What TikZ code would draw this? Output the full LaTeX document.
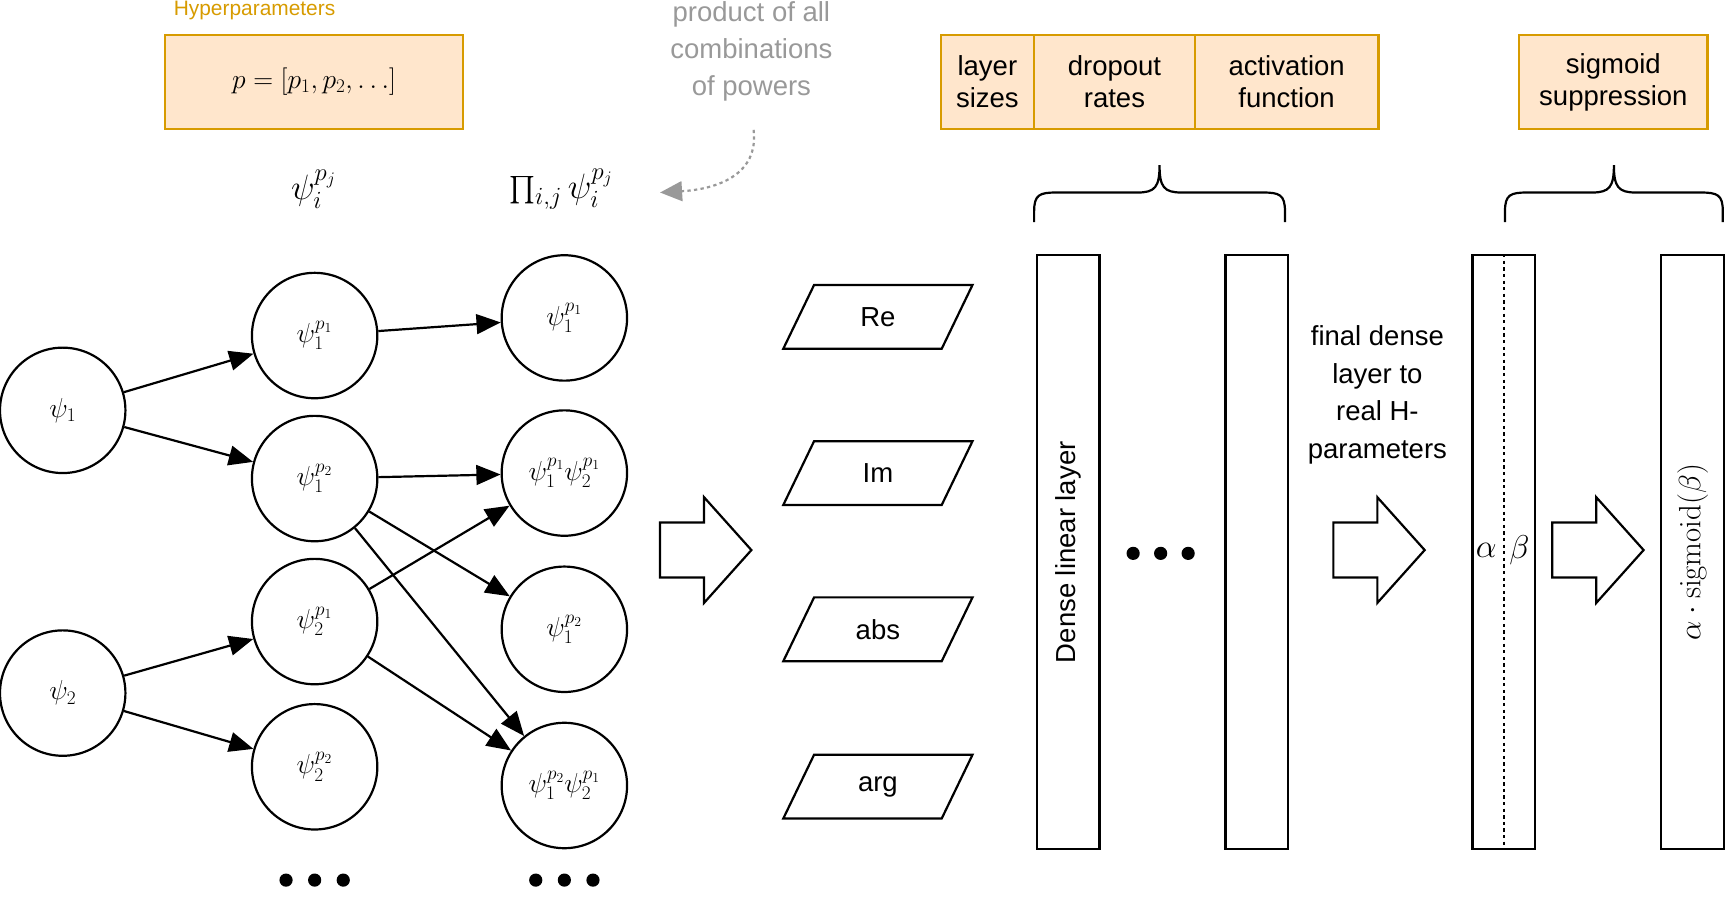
\RequirePackage{fix-cm}
\documentclass[tikz,border=0pt]{standalone}
\usepackage{amsmath}
\usepackage[no-math]{fontspec}
\setmainfont{Liberation Sans}
\usetikzlibrary{arrows.meta}
\definecolor{orfill}{HTML}{FFE6CC}
\definecolor{ordraw}{HTML}{D79B00}
\definecolor{grtxt}{HTML}{999999}
\begin{document}
\begin{tikzpicture}[x=1pt,y=-1pt,line width=2pt,
  fs/.style={font=\fontsize{25}{29}\selectfont},
  cnode/.style={draw,circle,minimum size=114pt,inner sep=0pt,fs},
  obox/.style={draw=ordraw,fill=orfill,line width=2pt,align=center,inner sep=0pt,fs},
  vrect/.style={draw,minimum width=57pt,minimum height=540pt,inner sep=0pt},
  arr/.style={-{Triangle[length=22pt,width=18pt]}},
  blk/.style={draw,fill=white,line width=2pt}]
\useasboundingbox (0,0) rectangle (1568,816);
% top boxes
\node[anchor=north west,text=ordraw,font=\fontsize{19}{22}\selectfont,inner sep=0pt] (hp) at (157,0) {Hyperparameters};
\node[obox,minimum width=271pt,minimum height=85pt] (pb) at (285.5,74.5) {$p=[p_1,p_2,\ldots]$};
\node[obox,minimum width=85pt,minimum height=85pt] (ls) at (897.5,74.5) {layer\\sizes};
\node[obox,minimum width=146pt,minimum height=85pt] (dr) at (1013,74.5) {dropout\\rates};
\node[obox,minimum width=167pt,minimum height=85pt] (af) at (1169.5,74.5) {activation\\function};
\node[obox,minimum width=171pt,minimum height=85pt] (ss) at (1466.5,74.5) {sigmoid\\suppression};
\node[text=grtxt,align=center,font=\fontsize{25}{33.5}\selectfont] (prod) at (683,47) {product of all\\combinations\\of powers};
% column titles
\node[font=\fontsize{32}{36}\selectfont] (t1) at (285,172) {$\psi_i^{p_j}$};
\node[font=\fontsize{32}{36}\selectfont] (t2) at (510,172) {$\prod_{i,j}\psi_i^{p_j}$};
\coordinate (pe) at (600,175);
\draw[grtxt,dashed,line width=2pt,-{Triangle[length=20pt,width=18pt]}] (685,118) .. controls (690,160) and (650,172) .. (pe);
% circles
\node[cnode] (a1) at (57,373) {$\psi_1$};
\node[cnode] (a2) at (57,630) {$\psi_2$};
\node[cnode] (m1) at (286,305) {$\psi_1^{p_1}$};
\node[cnode] (m2) at (286,435) {$\psi_1^{p_2}$};
\node[cnode] (m3) at (286,565) {$\psi_2^{p_1}$};
\node[cnode] (m4) at (286,697) {$\psi_2^{p_2}$};
\node[cnode] (r1) at (513,289) {$\psi_1^{p_1}$};
\node[cnode] (r2) at (513,430) {$\psi_1^{p_1}\psi_2^{p_1}$};
\node[cnode] (r3) at (513,572) {$\psi_1^{p_2}$};
\node[cnode] (r4) at (513,714) {$\psi_1^{p_2}\psi_2^{p_1}$};
\foreach \x in {260,286,312}{\fill (\x,800) circle (6pt);}
\foreach \x in {487,513,539}{\fill (\x,800) circle (6pt);}
\draw[arr] (a1) -- (m1); \draw[arr] (a1) -- (m2);
\draw[arr] (a2) -- (m3); \draw[arr] (a2) -- (m4);
\draw[arr] (m1) -- (r1); \draw[arr] (m2) -- (r2);
\draw[arr] (m2) -- (r3); \draw[arr] (m2) -- (r4);
\draw[arr] (m3) -- (r2); \draw[arr] (m3) -- (r4);
% block arrows
\foreach \x in {600,1212,1411}{
 \draw[blk] (\x,475) -- (\x+40,475) -- (\x+40,452) -- (\x+83,500) -- (\x+40,548) -- (\x+40,525) -- (\x,525) -- cycle;}
% parallelograms
\foreach \y/\t/\n in {288/Re/p1,430/Im/p2,572/abs/p3,715/arg/p4}{
 \draw (712,\y+29) -- (740,\y-29) -- (884,\y-29) -- (856,\y+29) -- cycle;
 \node[fs] (\n) at (798,\y) {\t};}
% layers
\node[vrect] (d1) at (971,502) {};
\node[rotate=90,fs] at (d1) {Dense linear layer};
\node[vrect] (d2) at (1142.5,502) {};
\foreach \x in {1030,1055,1080}{\fill (\x,503) circle (6pt);}
\node[align=center,font=\fontsize{25}{34}\selectfont] (fd) at (1252,359) {final dense\\layer to\\real H-\\parameters};
\node[vrect] (ab) at (1367,502) {};
\draw[dashed] (ab.north) -- (ab.south);
\node[font=\fontsize{30}{32}\selectfont] at (1351,500) {$\alpha$};
\node[font=\fontsize{30}{32}\selectfont] at (1381,500) {$\beta$};
\node[vrect] (sg) at (1538.5,502) {};
\node[rotate=90,font=\fontsize{28}{30}\selectfont] at (sg) {$\alpha\cdot\mathrm{sigmoid}(\beta)$};
% braces
\draw (940,202) -- (940,192) .. controls (940,177) and (945,175) .. (960,175) -- (1034,175) .. controls (1050,175) and (1054,170) .. (1054,150)
      .. controls (1054,170) and (1058,175) .. (1074,175) -- (1148,175) .. controls (1163,175) and (1168,177) .. (1168,192) -- (1168,202);
\draw (1368,202) -- (1368,192) .. controls (1368,177) and (1373,175) .. (1388,175) -- (1447,175) .. controls (1463,175) and (1467,170) .. (1467,150)
      .. controls (1467,170) and (1471,175) .. (1487,175) -- (1546,175) .. controls (1561,175) and (1566,177) .. (1566,192) -- (1566,202);
\end{tikzpicture}
\end{document}
